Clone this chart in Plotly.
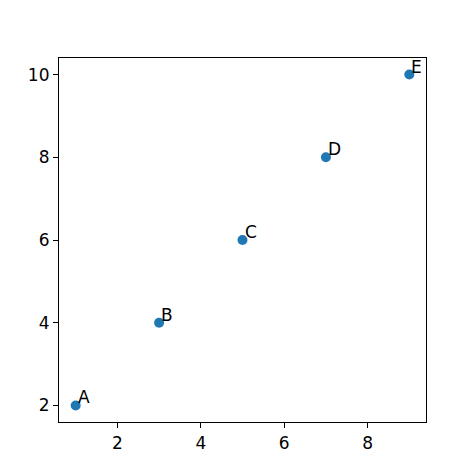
import plotly.graph_objects as go

xs = [1, 3, 5, 7, 9]
ys = [2, 4, 6, 8, 10]
labels = ["A", "B", "C", "D", "E"]

fig = go.Figure(go.Scatter(x=xs, y=ys, mode="markers",
                           marker=dict(color="#1f77b4", size=10)))
for x, y, t in zip(xs, ys, labels):
    fig.add_annotation(x=x, y=y, text=t, showarrow=False, xanchor="left", yanchor="bottom",
                       xshift=0, yshift=-4, font=dict(size=17, color="black", family="DejaVu Sans"))
ax = dict(showgrid=False, zeroline=False, showline=True, linecolor="black", linewidth=1.2,
          mirror=True, ticks="outside", ticklen=5, tickcolor="black",
          tickfont=dict(size=17, color="black", family="DejaVu Sans"))
fig.update_xaxes(range=[0.6, 9.4], tickvals=[2, 4, 6, 8], **ax)
fig.update_yaxes(range=[1.6, 10.4], tickvals=[2, 4, 6, 8, 10], **ax)
fig.update_layout(width=474, height=474, margin=dict(l=51, r=56, t=50, b=60),
                  plot_bgcolor="white", paper_bgcolor="white", showlegend=False)
fig.write_html("out.html")
